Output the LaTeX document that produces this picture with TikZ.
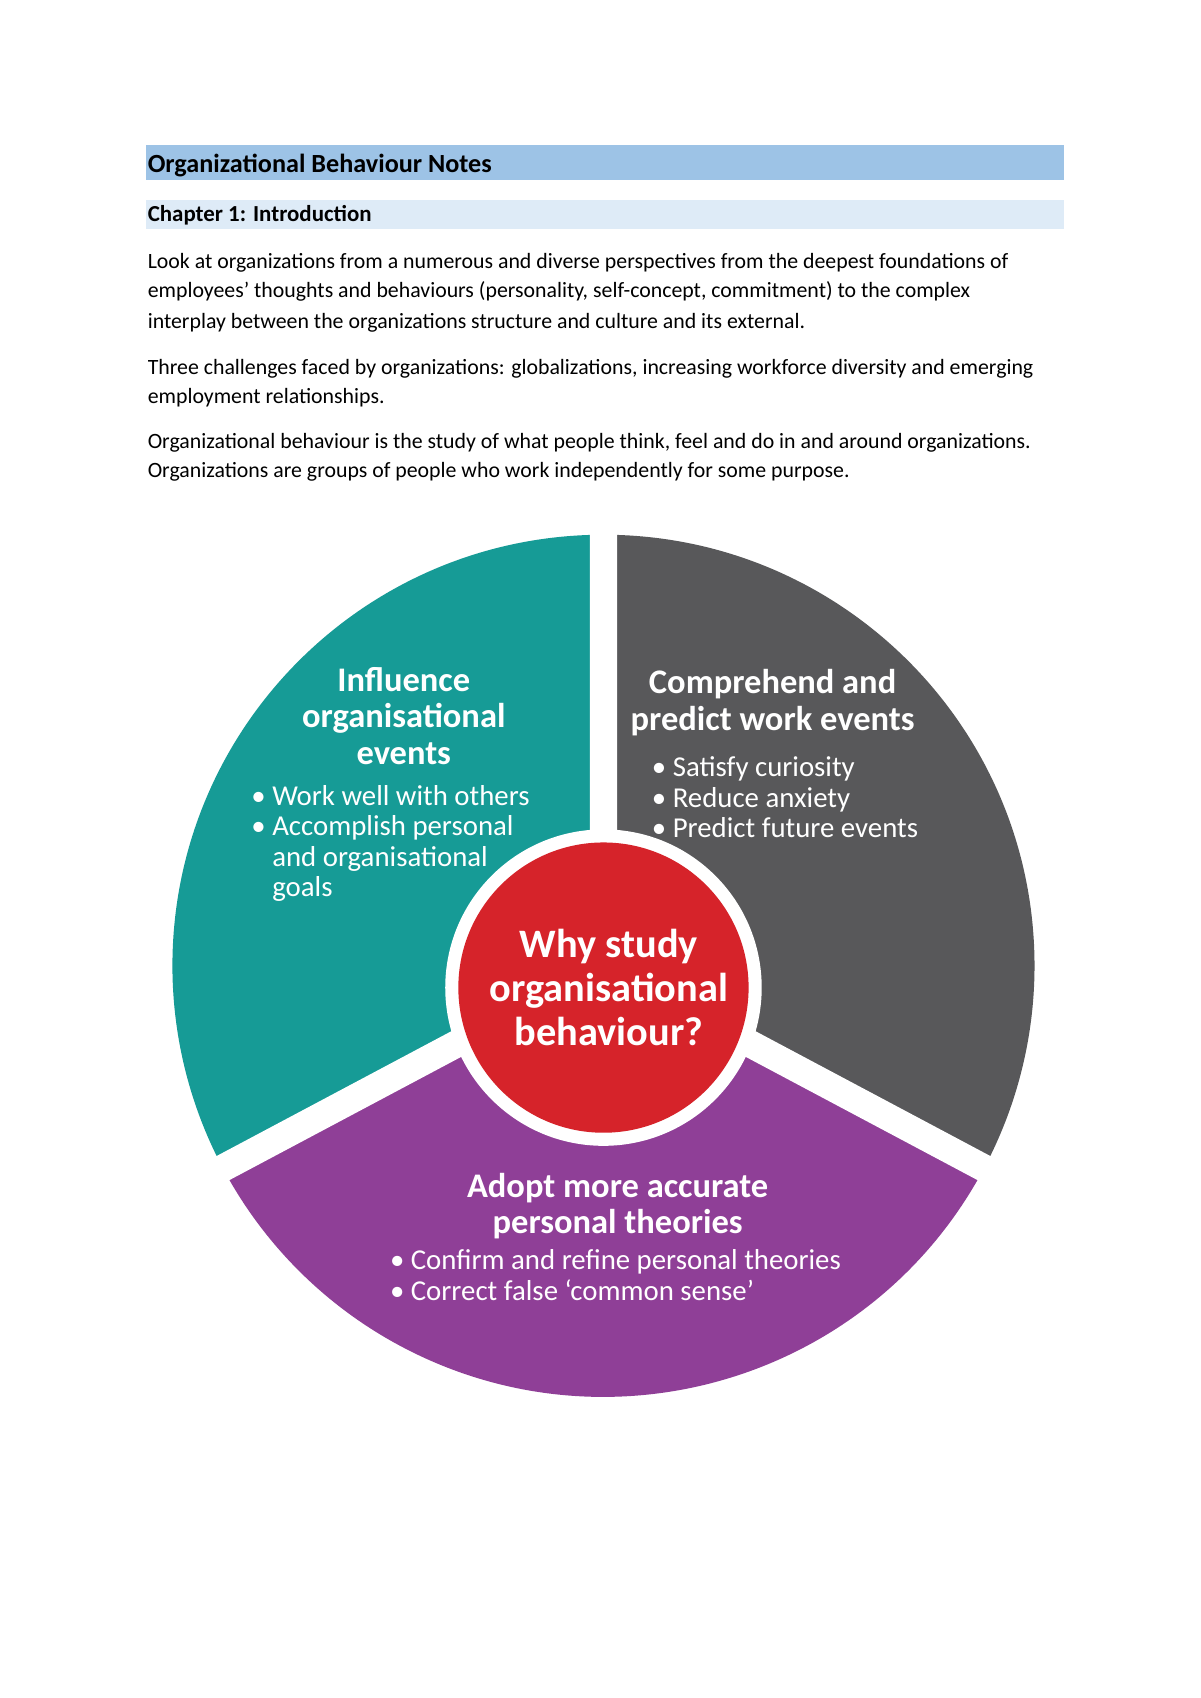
\documentclass[tikz,border=0pt]{standalone}
\usepackage{fontspec}
\setmainfont{Carlito}
\begin{document}
\begin{tikzpicture}[x=0.5pt,y=-0.5pt,
  body/.style={anchor=base west,inner sep=0pt,font=\fontsize{10}{13.5}\selectfont},
  head/.style={text=white,font=\bfseries\fontsize{15.8}{16.7}\selectfont,align=center,inner sep=0pt},
  bul/.style={text=white,font=\fontsize{13.2}{14}\selectfont,align=left,inner sep=0pt,anchor=north west}]
\useasboundingbox[fill=white] (0,0) rectangle (1100,1556);
\fill[fill={rgb,255:red,157;green,195;blue,230}] (134,133) rectangle (975,165);
\fill[fill={rgb,255:red,222;green,235;blue,247}] (134,183) rectangle (975,210);
\node[body,font=\bfseries\fontsize{12}{13}\selectfont] (t1) at (135,158) {Organizational Behaviour Notes};
\node[body,font=\bfseries\fontsize{10.5}{13}\selectfont] (t2) at (135,203) {Chapter 1: Introduction};
\node[body] (p1) at (135,246) {Look at organizations from a numerous and diverse perspectives from the deepest foundations of};
\node[body] (p2) at (135,273) {employees’ thoughts and behaviours (personality, self-concept, commitment) to the complex};
\node[body] (p3) at (135,301) {interplay between the organizations structure and culture and its external.};
\node[body] (p4) at (135,343) {Three challenges faced by organizations: globalizations, increasing workforce diversity and emerging};
\node[body] (p5) at (135,370) {employment relationships.};
\node[body] (p6) at (135,411) {Organizational behaviour is the study of what people think, feel and do in and around organizations.};
\node[body] (p7) at (135,438) {Organizations are groups of people who work independently for some purpose.};
\coordinate (c) at (553,885);
\fill[fill={rgb,255:red,22;green,155;blue,150}] (c) -- ++(-90:395) arc[start angle=-90,end angle=-208,radius=395] -- cycle;
\fill[fill={rgb,255:red,88;green,88;blue,90}] (c) -- ++(-90:395) arc[start angle=-90,end angle=28,radius=395] -- cycle;
\fill[fill={rgb,255:red,143;green,63;blue,151}] (c) -- ++(28:395) arc[start angle=28,end angle=152,radius=395] -- cycle;
\draw[white,line width=12.5pt] (c) -- ++(-90:410) (c) -- ++(28:410) (c) -- ++(152:410);
\fill[white] (553,905) circle (145);
\fill[fill={rgb,255:red,214;green,35;blue,42}] (553,905) circle (133);
\node[head,font=\bfseries\fontsize{18.5}{20}\selectfont] (ctr) at (558,905) {Why study\\organisational\\behaviour?};
\node[head] (h1) at (370,656) {Influence\\organisational\\events};
\node[bul] (b1) at (230,719) {\textbullet\ Work well with others\\\textbullet\ Accomplish personal\\\phantom{\textbullet\ }and organisational\\\phantom{\textbullet\ }goals};
\node[head] (h2) at (708,644) {Comprehend and\\predict work events};
\node[bul] (b2) at (597,693) {\textbullet\ Satisfy curiosity\\\textbullet\ Reduce anxiety\\\textbullet\ Predict future events};
\node[head] (h3) at (566,1105) {Adopt more accurate\\personal theories};
\node[bul] (b3) at (357,1145) {\textbullet\ Confirm and refine personal theories\\\textbullet\ Correct false ‘common sense’};
\end{tikzpicture}
\end{document}
